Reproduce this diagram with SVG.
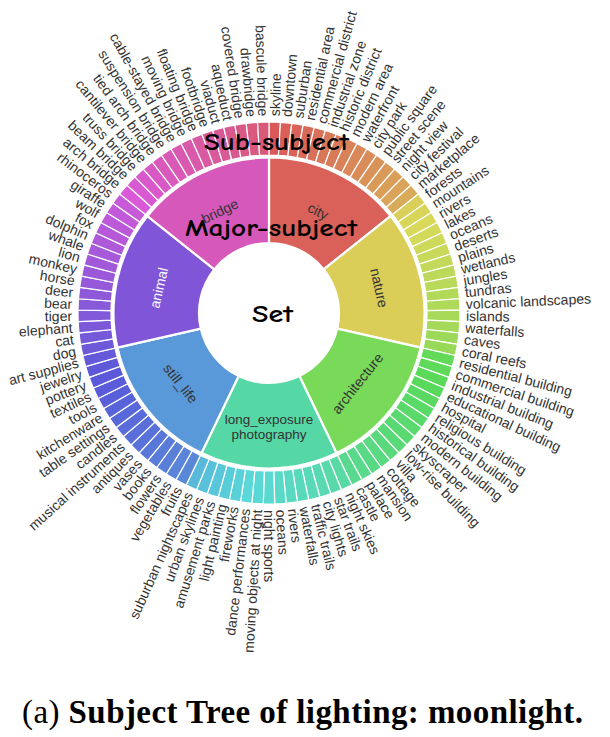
<svg xmlns="http://www.w3.org/2000/svg" xmlns:xlink="http://www.w3.org/1999/xlink" width="610" height="737" viewBox="0 0 610 737">
<style>
.lb{font-family:"Liberation Sans",Arial,sans-serif;font-size:14px;fill:#333}
.le{text-anchor:end}
.ml{font-family:"Liberation Sans",Arial,sans-serif;font-size:14px;fill:#333;text-anchor:middle}
.ov{font-family:"Comic Sans MS","Comic Neue","DejaVu Sans",sans-serif;font-weight:bold;font-size:24px;fill:#000;text-anchor:middle}
</style>
<defs>
<path id="lf" stroke="#fff" stroke-width="1.2" d="M -5.714 -190.915 A 191 191 0 0 1 5.714 -190.915 L 4.727 -157.929 A 158 158 0 0 0 -4.727 -157.929 Z"/>
<path id="mj" stroke="#fff" stroke-width="2.2" d="M -67.469 -140.101 A 155.5 155.5 0 0 1 67.469 -140.101 L 30.372 -63.068 A 70 70 0 0 0 -30.372 -63.068 Z"/>
</defs>
<rect width="610" height="737" fill="#fff"/>
<g transform="translate(269,313)">
<g id="root"><circle r="70" fill="#fff"/></g>
<g id="city" transform="rotate(25.714)"><use href="#mj" fill="hsl(4,63%,60%)"/><text class="ml" y="-113" dy=".35em">city</text></g>
<g id="nature" transform="rotate(77.143)"><use href="#mj" fill="hsl(54,64%,60%)"/><text class="ml" y="-113" dy=".35em">nature</text></g>
<g id="architecture" transform="rotate(128.571)"><use href="#mj" fill="hsl(105,63%,60%)"/><text class="ml" transform="translate(0,-113) rotate(180)" dy=".35em">architecture</text></g>
<g id="long_exposure_photography" transform="rotate(180)"><use href="#mj" fill="hsl(157,63%,59%)"/><text class="ml" transform="translate(0,-113) rotate(180)" style="font-size:13.5px"><tspan x="0" y="-2.5">long_exposure</tspan><tspan x="0" y="12.5">photography</tspan></text></g>
<g id="still_life" transform="rotate(231.429)"><use href="#mj" fill="hsl(210,63%,60%)"/><text class="ml" transform="translate(0,-113) rotate(180)" dy=".35em">still_life</text></g>
<g id="animal" transform="rotate(282.857)"><use href="#mj" fill="hsl(260,63%,59%)"/><text class="ml" y="-113" dy=".35em" style="fill:#fff">animal</text></g>
<g id="bridge" transform="rotate(334.286)"><use href="#mj" fill="hsl(313,60%,59%)"/><text class="ml" y="-113" dy=".35em">bridge</text></g>

<g id="leaves">
<g id="city-skyline" transform="rotate(1.714)"><use href="#lf" fill="hsl(0,63%,60%)"/><text class="lb" transform="rotate(-90) translate(197)" dy=".35em">skyline</text></g>
<g id="city-downtown" transform="rotate(5.143)"><use href="#lf" fill="hsl(3,63%,60%)"/><text class="lb" transform="rotate(-90) translate(197)" dy=".35em">downtown</text></g>
<g id="city-suburban" transform="rotate(8.571)"><use href="#lf" fill="hsl(5,63%,60%)"/><text class="lb" transform="rotate(-90) translate(197)" dy=".35em">suburban</text></g>
<g id="city-residential-area" transform="rotate(12)"><use href="#lf" fill="hsl(8,63%,60%)"/><text class="lb" transform="rotate(-90) translate(197)" dy=".35em">residential area</text></g>
<g id="city-commercial-district" transform="rotate(15.429)"><use href="#lf" fill="hsl(11,63%,60%)"/><text class="lb" transform="rotate(-90) translate(197)" dy=".35em">commercial district</text></g>
<g id="city-industrial-zone" transform="rotate(18.857)"><use href="#lf" fill="hsl(14,63%,60%)"/><text class="lb" transform="rotate(-90) translate(197)" dy=".35em">industrial zone</text></g>
<g id="city-historic-district" transform="rotate(22.286)"><use href="#lf" fill="hsl(16,63%,60%)"/><text class="lb" transform="rotate(-90) translate(197)" dy=".35em">historic district</text></g>
<g id="city-modern-area" transform="rotate(25.714)"><use href="#lf" fill="hsl(19,63%,60%)"/><text class="lb" transform="rotate(-90) translate(197)" dy=".35em">modern area</text></g>
<g id="city-waterfront" transform="rotate(29.143)"><use href="#lf" fill="hsl(22,63%,60%)"/><text class="lb" transform="rotate(-90) translate(197)" dy=".35em">waterfront</text></g>
<g id="city-city-park" transform="rotate(32.571)"><use href="#lf" fill="hsl(24,63%,60%)"/><text class="lb" transform="rotate(-90) translate(197)" dy=".35em">city park</text></g>
<g id="city-public-square" transform="rotate(36)"><use href="#lf" fill="hsl(27,63%,60%)"/><text class="lb" transform="rotate(-90) translate(197)" dy=".35em">public square</text></g>
<g id="city-street-scene" transform="rotate(39.429)"><use href="#lf" fill="hsl(30,63%,60%)"/><text class="lb" transform="rotate(-90) translate(197)" dy=".35em">street scene</text></g>
<g id="city-night-view" transform="rotate(42.857)"><use href="#lf" fill="hsl(33,63%,60%)"/><text class="lb" transform="rotate(-90) translate(197)" dy=".35em">night view</text></g>
<g id="city-city-festival" transform="rotate(46.286)"><use href="#lf" fill="hsl(35,63%,60%)"/><text class="lb" transform="rotate(-90) translate(197)" dy=".35em">city festival</text></g>
<g id="city-marketplace" transform="rotate(49.714)"><use href="#lf" fill="hsl(38,63%,60%)"/><text class="lb" transform="rotate(-90) translate(197)" dy=".35em">marketplace</text></g>

<g id="nature-forests" transform="rotate(53.143)"><use href="#lf" fill="hsl(55,63%,60%)"/><text class="lb" transform="rotate(-90) translate(197)" dy=".35em">forests</text></g>
<g id="nature-mountains" transform="rotate(56.571)"><use href="#lf" fill="hsl(58,63%,60%)"/><text class="lb" transform="rotate(-90) translate(197)" dy=".35em">mountains</text></g>
<g id="nature-rivers" transform="rotate(60)"><use href="#lf" fill="hsl(60,63%,60%)"/><text class="lb" transform="rotate(-90) translate(197)" dy=".35em">rivers</text></g>
<g id="nature-lakes" transform="rotate(63.429)"><use href="#lf" fill="hsl(63,63%,60%)"/><text class="lb" transform="rotate(-90) translate(197)" dy=".35em">lakes</text></g>
<g id="nature-oceans" transform="rotate(66.857)"><use href="#lf" fill="hsl(65,63%,60%)"/><text class="lb" transform="rotate(-90) translate(197)" dy=".35em">oceans</text></g>
<g id="nature-deserts" transform="rotate(70.286)"><use href="#lf" fill="hsl(68,63%,60%)"/><text class="lb" transform="rotate(-90) translate(197)" dy=".35em">deserts</text></g>
<g id="nature-plains" transform="rotate(73.714)"><use href="#lf" fill="hsl(70,63%,60%)"/><text class="lb" transform="rotate(-90) translate(197)" dy=".35em">plains</text></g>
<g id="nature-wetlands" transform="rotate(77.143)"><use href="#lf" fill="hsl(73,63%,60%)"/><text class="lb" transform="rotate(-90) translate(197)" dy=".35em">wetlands</text></g>
<g id="nature-jungles" transform="rotate(80.571)"><use href="#lf" fill="hsl(75,63%,60%)"/><text class="lb" transform="rotate(-90) translate(197)" dy=".35em">jungles</text></g>
<g id="nature-tundras" transform="rotate(84)"><use href="#lf" fill="hsl(78,63%,60%)"/><text class="lb" transform="rotate(-90) translate(197)" dy=".35em">tundras</text></g>
<g id="nature-volcanic-landscapes" transform="rotate(87.429)"><use href="#lf" fill="hsl(80,63%,60%)"/><text class="lb" transform="rotate(-90) translate(197)" dy=".35em">volcanic landscapes</text></g>
<g id="nature-islands" transform="rotate(90.857)"><use href="#lf" fill="hsl(83,63%,60%)"/><text class="lb" transform="rotate(-90) translate(197)" dy=".35em">islands</text></g>
<g id="nature-waterfalls" transform="rotate(94.286)"><use href="#lf" fill="hsl(85,63%,60%)"/><text class="lb" transform="rotate(-90) translate(197)" dy=".35em">waterfalls</text></g>
<g id="nature-caves" transform="rotate(97.714)"><use href="#lf" fill="hsl(88,63%,60%)"/><text class="lb" transform="rotate(-90) translate(197)" dy=".35em">caves</text></g>
<g id="nature-coral-reefs" transform="rotate(101.143)"><use href="#lf" fill="hsl(90,63%,60%)"/><text class="lb" transform="rotate(-90) translate(197)" dy=".35em">coral reefs</text></g>

<g id="arch-residential-building" transform="rotate(104.571)"><use href="#lf" fill="hsl(115,63%,60%)"/><text class="lb" transform="rotate(-90) translate(197)" dy=".35em">residential building</text></g>
<g id="arch-commercial-building" transform="rotate(108)"><use href="#lf" fill="hsl(117,63%,60%)"/><text class="lb" transform="rotate(-90) translate(197)" dy=".35em">commercial building</text></g>
<g id="arch-industrial-building" transform="rotate(111.429)"><use href="#lf" fill="hsl(119,63%,60%)"/><text class="lb" transform="rotate(-90) translate(197)" dy=".35em">industrial building</text></g>
<g id="arch-educational-building" transform="rotate(114.857)"><use href="#lf" fill="hsl(121,63%,60%)"/><text class="lb" transform="rotate(-90) translate(197)" dy=".35em">educational building</text></g>
<g id="arch-hospital" transform="rotate(118.286)"><use href="#lf" fill="hsl(124,63%,60%)"/><text class="lb" transform="rotate(-90) translate(197)" dy=".35em">hospital</text></g>
<g id="arch-religious-building" transform="rotate(121.714)"><use href="#lf" fill="hsl(126,63%,60%)"/><text class="lb" transform="rotate(-90) translate(197)" dy=".35em">religious building</text></g>
<g id="arch-historical-building" transform="rotate(125.143)"><use href="#lf" fill="hsl(128,63%,60%)"/><text class="lb" transform="rotate(-90) translate(197)" dy=".35em">historical building</text></g>
<g id="arch-modern-building" transform="rotate(128.571)"><use href="#lf" fill="hsl(130,63%,60%)"/><text class="lb" transform="rotate(-90) translate(197)" dy=".35em">modern building</text></g>
<g id="arch-skyscraper" transform="rotate(132)"><use href="#lf" fill="hsl(132,63%,60%)"/><text class="lb" transform="rotate(-90) translate(197)" dy=".35em">skyscraper</text></g>
<g id="arch-low-rise-building" transform="rotate(135.429)"><use href="#lf" fill="hsl(134,63%,60%)"/><text class="lb" transform="rotate(-90) translate(197)" dy=".35em">low-rise building</text></g>
<g id="arch-villa" transform="rotate(138.857)"><use href="#lf" fill="hsl(136,63%,60%)"/><text class="lb" transform="rotate(-90) translate(197)" dy=".35em">villa</text></g>
<g id="arch-cottage" transform="rotate(142.286)"><use href="#lf" fill="hsl(139,63%,60%)"/><text class="lb" transform="rotate(-90) translate(197)" dy=".35em">cottage</text></g>
<g id="arch-mansion" transform="rotate(145.714)"><use href="#lf" fill="hsl(141,63%,60%)"/><text class="lb" transform="rotate(-90) translate(197)" dy=".35em">mansion</text></g>
<g id="arch-palace" transform="rotate(149.143)"><use href="#lf" fill="hsl(143,63%,60%)"/><text class="lb" transform="rotate(-90) translate(197)" dy=".35em">palace</text></g>
<g id="arch-castle" transform="rotate(152.571)"><use href="#lf" fill="hsl(145,63%,60%)"/><text class="lb" transform="rotate(-90) translate(197)" dy=".35em">castle</text></g>

<g id="long-night-skies" transform="rotate(156)"><use href="#lf" fill="hsl(155,63%,60%)"/><text class="lb" transform="rotate(-90) translate(197)" dy=".35em">night skies</text></g>
<g id="long-star-trails" transform="rotate(159.429)"><use href="#lf" fill="hsl(158,63%,60%)"/><text class="lb" transform="rotate(-90) translate(197)" dy=".35em">star trails</text></g>
<g id="long-city-lights" transform="rotate(162.857)"><use href="#lf" fill="hsl(161,63%,60%)"/><text class="lb" transform="rotate(-90) translate(197)" dy=".35em">city lights</text></g>
<g id="long-traffic-trails" transform="rotate(166.286)"><use href="#lf" fill="hsl(164,63%,60%)"/><text class="lb" transform="rotate(-90) translate(197)" dy=".35em">traffic trails</text></g>
<g id="long-waterfalls" transform="rotate(169.714)"><use href="#lf" fill="hsl(166,63%,60%)"/><text class="lb" transform="rotate(-90) translate(197)" dy=".35em">waterfalls</text></g>
<g id="long-rivers" transform="rotate(173.143)"><use href="#lf" fill="hsl(169,63%,60%)"/><text class="lb" transform="rotate(-90) translate(197)" dy=".35em">rivers</text></g>
<g id="long-oceans" transform="rotate(176.571)"><use href="#lf" fill="hsl(172,63%,60%)"/><text class="lb" transform="rotate(-90) translate(197)" dy=".35em">oceans</text></g>
<g id="long-night-sports" transform="rotate(180)"><use href="#lf" fill="hsl(175,63%,60%)"/><text class="lb" transform="rotate(-90) translate(197)" dy=".35em">night sports</text></g>
<g id="long-moving-objects-at-night" transform="rotate(183.429)"><use href="#lf" fill="hsl(178,63%,60%)"/><text class="lb le" transform="rotate(90) translate(-197)" dy=".35em">moving objects at night</text></g>
<g id="long-dance-performances" transform="rotate(186.857)"><use href="#lf" fill="hsl(181,63%,60%)"/><text class="lb le" transform="rotate(90) translate(-197)" dy=".35em">dance performances</text></g>
<g id="long-fireworks" transform="rotate(190.286)"><use href="#lf" fill="hsl(184,63%,60%)"/><text class="lb le" transform="rotate(90) translate(-197)" dy=".35em">fireworks</text></g>
<g id="long-light-painting" transform="rotate(193.714)"><use href="#lf" fill="hsl(186,63%,60%)"/><text class="lb le" transform="rotate(90) translate(-197)" dy=".35em">light painting</text></g>
<g id="long-amusement-parks" transform="rotate(197.143)"><use href="#lf" fill="hsl(189,63%,60%)"/><text class="lb le" transform="rotate(90) translate(-197)" dy=".35em">amusement parks</text></g>
<g id="long-urban-skylines" transform="rotate(200.571)"><use href="#lf" fill="hsl(192,63%,60%)"/><text class="lb le" transform="rotate(90) translate(-197)" dy=".35em">urban skylines</text></g>
<g id="long-suburban-nightscapes" transform="rotate(204)"><use href="#lf" fill="hsl(195,63%,60%)"/><text class="lb le" transform="rotate(90) translate(-197)" dy=".35em">suburban nightscapes</text></g>

<g id="still-fruits" transform="rotate(207.429)"><use href="#lf" fill="hsl(218,63%,60%)"/><text class="lb le" transform="rotate(90) translate(-197)" dy=".35em">fruits</text></g>
<g id="still-vegetables" transform="rotate(210.857)"><use href="#lf" fill="hsl(220,63%,60%)"/><text class="lb le" transform="rotate(90) translate(-197)" dy=".35em">vegetables</text></g>
<g id="still-flowers" transform="rotate(214.286)"><use href="#lf" fill="hsl(222,63%,60%)"/><text class="lb le" transform="rotate(90) translate(-197)" dy=".35em">flowers</text></g>
<g id="still-books" transform="rotate(217.714)"><use href="#lf" fill="hsl(224,63%,60%)"/><text class="lb le" transform="rotate(90) translate(-197)" dy=".35em">books</text></g>
<g id="still-vases" transform="rotate(221.143)"><use href="#lf" fill="hsl(226,63%,60%)"/><text class="lb le" transform="rotate(90) translate(-197)" dy=".35em">vases</text></g>
<g id="still-antiques" transform="rotate(224.571)"><use href="#lf" fill="hsl(228,63%,60%)"/><text class="lb le" transform="rotate(90) translate(-197)" dy=".35em">antiques</text></g>
<g id="still-musical-instruments" transform="rotate(228)"><use href="#lf" fill="hsl(230,63%,60%)"/><text class="lb le" transform="rotate(90) translate(-197)" dy=".35em">musical instruments</text></g>
<g id="still-candles" transform="rotate(231.429)"><use href="#lf" fill="hsl(231,63%,60%)"/><text class="lb le" transform="rotate(90) translate(-197)" dy=".35em">candles</text></g>
<g id="still-table-settings" transform="rotate(234.857)"><use href="#lf" fill="hsl(233,63%,60%)"/><text class="lb le" transform="rotate(90) translate(-197)" dy=".35em">table settings</text></g>
<g id="still-kitchenware" transform="rotate(238.286)"><use href="#lf" fill="hsl(235,63%,60%)"/><text class="lb le" transform="rotate(90) translate(-197)" dy=".35em">kitchenware</text></g>
<g id="still-tools" transform="rotate(241.714)"><use href="#lf" fill="hsl(237,63%,60%)"/><text class="lb le" transform="rotate(90) translate(-197)" dy=".35em">tools</text></g>
<g id="still-textiles" transform="rotate(245.143)"><use href="#lf" fill="hsl(239,63%,60%)"/><text class="lb le" transform="rotate(90) translate(-197)" dy=".35em">textiles</text></g>
<g id="still-pottery" transform="rotate(248.571)"><use href="#lf" fill="hsl(241,63%,60%)"/><text class="lb le" transform="rotate(90) translate(-197)" dy=".35em">pottery</text></g>
<g id="still-jewelry" transform="rotate(252)"><use href="#lf" fill="hsl(243,63%,60%)"/><text class="lb le" transform="rotate(90) translate(-197)" dy=".35em">jewelry</text></g>
<g id="still-art-supplies" transform="rotate(255.429)"><use href="#lf" fill="hsl(245,63%,60%)"/><text class="lb le" transform="rotate(90) translate(-197)" dy=".35em">art supplies</text></g>

<g id="animal-dog" transform="rotate(258.857)"><use href="#lf" fill="hsl(250,63%,60%)"/><text class="lb le" transform="rotate(90) translate(-197)" dy=".35em">dog</text></g>
<g id="animal-cat" transform="rotate(262.286)"><use href="#lf" fill="hsl(253,63%,60%)"/><text class="lb le" transform="rotate(90) translate(-197)" dy=".35em">cat</text></g>
<g id="animal-elephant" transform="rotate(265.714)"><use href="#lf" fill="hsl(256,63%,60%)"/><text class="lb le" transform="rotate(90) translate(-197)" dy=".35em">elephant</text></g>
<g id="animal-tiger" transform="rotate(269.143)"><use href="#lf" fill="hsl(259,63%,60%)"/><text class="lb le" transform="rotate(90) translate(-197)" dy=".35em">tiger</text></g>
<g id="animal-bear" transform="rotate(272.571)"><use href="#lf" fill="hsl(262,63%,60%)"/><text class="lb le" transform="rotate(90) translate(-197)" dy=".35em">bear</text></g>
<g id="animal-deer" transform="rotate(276)"><use href="#lf" fill="hsl(265,63%,60%)"/><text class="lb le" transform="rotate(90) translate(-197)" dy=".35em">deer</text></g>
<g id="animal-horse" transform="rotate(279.429)"><use href="#lf" fill="hsl(268,63%,60%)"/><text class="lb le" transform="rotate(90) translate(-197)" dy=".35em">horse</text></g>
<g id="animal-monkey" transform="rotate(282.857)"><use href="#lf" fill="hsl(271,63%,60%)"/><text class="lb le" transform="rotate(90) translate(-197)" dy=".35em">monkey</text></g>
<g id="animal-lion" transform="rotate(286.286)"><use href="#lf" fill="hsl(274,63%,60%)"/><text class="lb le" transform="rotate(90) translate(-197)" dy=".35em">lion</text></g>
<g id="animal-whale" transform="rotate(289.714)"><use href="#lf" fill="hsl(277,63%,60%)"/><text class="lb le" transform="rotate(90) translate(-197)" dy=".35em">whale</text></g>
<g id="animal-dolphin" transform="rotate(293.143)"><use href="#lf" fill="hsl(280,63%,60%)"/><text class="lb le" transform="rotate(90) translate(-197)" dy=".35em">dolphin</text></g>
<g id="animal-fox" transform="rotate(296.571)"><use href="#lf" fill="hsl(283,63%,60%)"/><text class="lb le" transform="rotate(90) translate(-197)" dy=".35em">fox</text></g>
<g id="animal-wolf" transform="rotate(300)"><use href="#lf" fill="hsl(286,63%,60%)"/><text class="lb le" transform="rotate(90) translate(-197)" dy=".35em">wolf</text></g>
<g id="animal-giraffe" transform="rotate(303.429)"><use href="#lf" fill="hsl(289,63%,60%)"/><text class="lb le" transform="rotate(90) translate(-197)" dy=".35em">giraffe</text></g>
<g id="animal-rhinoceros" transform="rotate(306.857)"><use href="#lf" fill="hsl(292,63%,60%)"/><text class="lb le" transform="rotate(90) translate(-197)" dy=".35em">rhinoceros</text></g>

<g id="bridge-arch-bridge" transform="rotate(310.286)"><use href="#lf" fill="hsl(300,63%,60%)"/><text class="lb le" transform="rotate(90) translate(-197)" dy=".35em">arch bridge</text></g>
<g id="bridge-beam-bridge" transform="rotate(313.714)"><use href="#lf" fill="hsl(303,63%,60%)"/><text class="lb le" transform="rotate(90) translate(-197)" dy=".35em">beam bridge</text></g>
<g id="bridge-truss-bridge" transform="rotate(317.143)"><use href="#lf" fill="hsl(306,63%,60%)"/><text class="lb le" transform="rotate(90) translate(-197)" dy=".35em">truss bridge</text></g>
<g id="bridge-cantilever-bridge" transform="rotate(320.571)"><use href="#lf" fill="hsl(310,63%,60%)"/><text class="lb le" transform="rotate(90) translate(-197)" dy=".35em">cantilever bridge</text></g>
<g id="bridge-tied-arch-bridge" transform="rotate(324)"><use href="#lf" fill="hsl(313,63%,60%)"/><text class="lb le" transform="rotate(90) translate(-197)" dy=".35em">tied arch bridge</text></g>
<g id="bridge-suspension-bridge" transform="rotate(327.429)"><use href="#lf" fill="hsl(316,63%,60%)"/><text class="lb le" transform="rotate(90) translate(-197)" dy=".35em">suspension bridge</text></g>
<g id="bridge-cable-stayed-bridge" transform="rotate(330.857)"><use href="#lf" fill="hsl(319,63%,60%)"/><text class="lb le" transform="rotate(90) translate(-197)" dy=".35em">cable-stayed bridge</text></g>
<g id="bridge-moving-bridge" transform="rotate(334.286)"><use href="#lf" fill="hsl(322,63%,60%)"/><text class="lb le" transform="rotate(90) translate(-197)" dy=".35em">moving bridge</text></g>
<g id="bridge-floating-bridge" transform="rotate(337.714)"><use href="#lf" fill="hsl(326,63%,60%)"/><text class="lb le" transform="rotate(90) translate(-197)" dy=".35em">floating bridge</text></g>
<g id="bridge-footbridge" transform="rotate(341.143)"><use href="#lf" fill="hsl(329,63%,60%)"/><text class="lb le" transform="rotate(90) translate(-197)" dy=".35em">footbridge</text></g>
<g id="bridge-viaduct" transform="rotate(344.571)"><use href="#lf" fill="hsl(332,63%,60%)"/><text class="lb le" transform="rotate(90) translate(-197)" dy=".35em">viaduct</text></g>
<g id="bridge-aqueduct" transform="rotate(348)"><use href="#lf" fill="hsl(335,63%,60%)"/><text class="lb le" transform="rotate(90) translate(-197)" dy=".35em">aqueduct</text></g>
<g id="bridge-covered-bridge" transform="rotate(351.429)"><use href="#lf" fill="hsl(339,63%,60%)"/><text class="lb le" transform="rotate(90) translate(-197)" dy=".35em">covered bridge</text></g>
<g id="bridge-drawbridge" transform="rotate(354.857)"><use href="#lf" fill="hsl(342,63%,60%)"/><text class="lb le" transform="rotate(90) translate(-197)" dy=".35em">drawbridge</text></g>
<g id="bridge-bascule-bridge" transform="rotate(358.286)"><use href="#lf" fill="hsl(345,63%,60%)"/><text class="lb le" transform="rotate(90) translate(-197)" dy=".35em">bascule bridge</text></g>
</g>
</g>
<g id="overlay">
<text class="ov" x="276.5" y="150" textLength="145" lengthAdjust="spacingAndGlyphs">Sub-subject</text>
<text class="ov" x="271" y="236" textLength="172" lengthAdjust="spacingAndGlyphs">Major-subject</text>
<text class="ov" x="272.5" y="322" textLength="41" lengthAdjust="spacingAndGlyphs">Set</text>
</g>
<text id="caption" x="22" y="723" font-family="Liberation Serif, 'Times New Roman', serif" font-size="33" textLength="561" fill="#000">(a) <tspan font-weight="bold">Subject Tree of lighting: moonlight.</tspan></text>
</svg>
